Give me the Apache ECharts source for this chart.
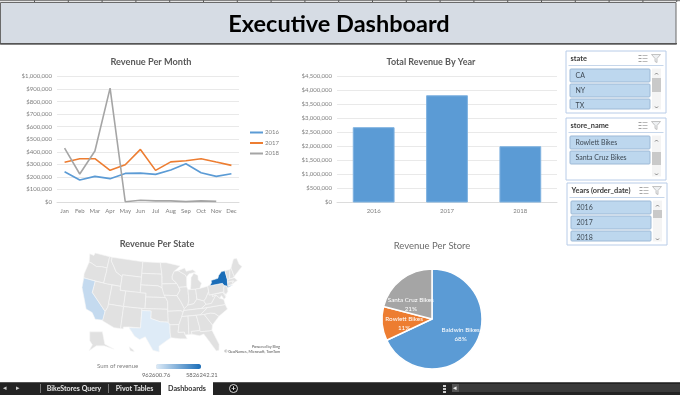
<!DOCTYPE html>
<html><head><meta charset="utf-8">
<style>html,body{margin:0;padding:0;background:#fff}#c{width:680px;height:395px}</style>
<script src="https://cdn.jsdelivr.net/npm/echarts@6/dist/echarts.min.js"></script>
</head><body><div id="c"></div>
<script>
const months=['Jan','Feb','Mar','Apr','May','Jun','Jul','Aug','Sep','Oct','Nov','Dec'];
const rev2016=[241000,175000,204000,186000,228000,230000,220000,255000,305000,233000,204000,225000];
const rev2017=[316000,345000,345000,252000,297000,419000,252000,320000,329000,345000,318000,292000];
const rev2018=[430000,223000,406000,907000,2000,14000,9000,9000,3000,9000,5000,null];
const years=['2016','2017','2018'];
const yearTotals=[2690000,3830000,2010000];
const stateNames=['Texas','California','New York'];
const stateRevenue=[962600.76,1605823,5826242.21];
const stores=['Baldwin Bikes','Rowlett Bikes','Santa Cruz Bikes'];
const storeShare=[68,11,21];
const stateSlicer=['CA','NY','TX'];
const storeSlicer=['Rowlett Bikes','Santa Cruz Bikes'];
const yearSlicer=['2016','2017','2018'];
const tabs=['BikeStores Query','Pivot Tables','Dashboards'];

// Coarse state outlines (base map geometry, lon/lat)
const S={
Washington:[[-124.7,48.4,-123,48.3,-122.8,49,-117,49,-117,46,-119,46,-121,45.7,-123,46.2,-124,46.3]],
Oregon:[[-124,46.3,-123,46.2,-121,45.7,-119,46,-117,46,-116.9,45,-117,44,-117,42,-124.2,42,-124.5,43]],
California:[[-124.2,42,-120,42,-120,39,-114.6,35,-114.7,32.7,-117.1,32.5,-118.5,34,-120.6,34.5,-122,36.8,-123.8,39.5]],
Nevada:[[-120,42,-114,42,-114,36.2,-114.6,35,-120,39]],
Idaho:[[-117,49,-116,49,-116,48,-114.5,46.6,-113.5,45.5,-111,44.5,-111,42,-117,42,-117,44,-116.9,45,-117,46]],
Montana:[[-116,49,-104,49,-104,45,-111,45,-111,44.5,-113.5,45.5,-114.5,46.6,-116,48]],
Wyoming:[[-111,45,-104,45,-104,41,-111,41]],
Utah:[[-114,42,-111,42,-111,41,-109,41,-109,37,-114,37]],
Colorado:[[-109,41,-102,41,-102,37,-109,37]],
Arizona:[[-114.6,35,-114,36.2,-114,37,-109,37,-109,31.3,-111,31.3,-114.8,32.5]],
'New Mexico':[[-109,37,-103,37,-103,32,-106.6,32,-106.5,31.8,-108.2,31.8,-108.2,31.3,-109,31.3]],
'North Dakota':[[-104,49,-97.2,49,-96.6,46,-104,46]],
'South Dakota':[[-104,46,-96.6,46,-96.5,42.5,-98,43,-104,43]],
Nebraska:[[-104,43,-98,43,-96.5,42.5,-95.3,40,-102,40,-102,41,-104,41]],
Kansas:[[-102,40,-95.3,40,-94.6,39,-94.6,37,-102,37]],
Oklahoma:[[-103,37,-94.6,37,-94.5,33.7,-97,33.8,-100,34.6,-100,36.5,-103,36.5]],
Texas:[[-103,36.5,-100,36.5,-100,34.6,-97,33.8,-94.5,33.7,-94,33,-94,31,-93.8,29.7,-95,29,-97.3,27.5,-97.2,26,-99,26.4,-101.4,29.8,-103,29,-104.5,29.7,-106.5,31.8,-106.6,32,-103,32]],
Minnesota:[[-97.2,49,-95,49,-89.6,48,-92,46.7,-92.8,45.5,-92.8,44.7,-91.2,43.5,-96.5,43.5,-96.5,45.3,-96.6,46]],
Iowa:[[-96.5,43.5,-91.2,43.5,-90.2,41.8,-91.4,40.4,-95.8,40.6,-96.5,42.5]],
Missouri:[[-95.8,40.6,-91.4,40.4,-90.2,38.8,-89.2,37,-89.7,36,-90.3,36.5,-94.6,36.5,-94.6,39,-95.3,40]],
Arkansas:[[-94.6,36.5,-90.3,36.5,-89.7,36,-90.2,35,-91.2,33,-94,33,-94.5,33.7]],
Louisiana:[[-94,33,-91.2,33,-91.6,31,-89.7,31,-89.5,30.2,-89,29.2,-91,29.3,-93.8,29.7,-94,31]],
Wisconsin:[[-92,46.7,-90.5,46.8,-88,45.6,-87.6,45,-87.8,42.5,-90.6,42.5,-91.2,43.5,-92.8,44.7,-92.8,45.5]],
Illinois:[[-90.6,42.5,-87.8,42.5,-87.5,41.7,-87.5,39,-88,37.8,-89.2,37,-90.2,38.8,-91.4,40.4,-90.2,41.8]],
Indiana:[[-87.5,41.7,-84.8,41.7,-84.8,39.1,-86,38,-88,37.8,-87.5,39]],
Michigan:[[-86.6,41.75,-84.8,41.7,-83.4,41.7,-82.5,43,-83.5,44,-83.4,45.1,-84.8,45.8,-86,44.7,-86.3,43],[-90.5,46.8,-88,47.4,-87.5,46.5,-85,46.7,-84,46,-86.5,45.8,-87.6,45,-88,45.6]],
Ohio:[[-84.8,41.7,-83.4,41.7,-80.5,42,-80.5,40.6,-81.8,39,-82.6,38.4,-84.8,39.1]],
Kentucky:[[-89.2,37,-88,37.8,-86,38,-84.8,39.1,-82.6,38.4,-82,37.5,-83.7,36.6,-89.4,36.5]],
Tennessee:[[-89.7,36,-89.4,36.5,-83.7,36.6,-81.7,36.6,-84.3,35,-90.2,35]],
Mississippi:[[-90.2,35,-88.2,35,-88.4,30.3,-89.5,30.2,-89.7,31,-91.6,31,-91.2,33]],
Alabama:[[-88.2,35,-85.6,35,-85,32,-85,31,-87.6,31,-87.5,30.3,-88.4,30.3]],
Georgia:[[-85.6,35,-83.1,35,-81,32,-81.4,30.7,-82.2,30.6,-84.9,30.7,-85,31,-85,32]],
Florida:[[-87.6,31,-85,31,-84.9,30.7,-82.2,30.6,-81.4,30.7,-80,26.8,-80.3,25.3,-81.1,25.2,-82.7,28,-84,30,-85.3,29.7,-87.5,30.3]],
'South Carolina':[[-83.1,35,-81,35.1,-79.7,34.8,-78.6,33.9,-81,32]],
'North Carolina':[[-84.3,35,-81.7,36.6,-75.9,36.55,-75.5,35.3,-78.6,33.9,-79.7,34.8,-81,35.1,-83.1,35]],
Virginia:[[-83.7,36.6,-75.9,36.55,-76,37.9,-77.2,38.4,-78.3,39.4,-80.3,37.5,-82,37.5]],
'West Virginia':[[-82.6,38.4,-81.8,39,-80.5,40.6,-80.5,39.7,-79.5,39.7,-79.5,39.2,-78.3,39.4,-80.3,37.5,-82,37.5]],
Maryland:[[-79.5,39.7,-75.8,39.7,-75.1,38.4,-75.9,37.95,-76.5,39,-77.2,38.4,-78.3,39.4,-79.5,39.2]],
Delaware:[[-75.8,39.7,-75.4,39.8,-75.1,38.4]],
Pennsylvania:[[-80.5,42,-79.8,42.3,-79.8,42,-75.3,42,-74.8,41.3,-75.2,40.7,-75.4,39.8,-80.5,39.7]],
'New York':[[-79.8,42,-79,42.7,-79,43.3,-76.5,43.5,-76,44.2,-74.7,45,-73.4,45,-73.3,42.7,-73.5,41.3,-73.7,40.9,-72,41,-74,40.6,-74,41,-74.8,41.3,-75.3,42]],
'New Jersey':[[-74.8,41.3,-74,41,-74,40.4,-74.1,39.7,-74.9,39,-75.5,39.6,-75.2,40.7]],
Connecticut:[[-73.5,42,-71.8,42,-71.8,41.3,-73.7,40.95]],
'Rhode Island':[[-71.8,42,-71.4,42,-71.2,41.5,-71.8,41.3]],
Massachusetts:[[-73.3,42.7,-71.3,42.7,-70.7,42.6,-70,41.8,-71.2,41.5,-71.4,42,-71.8,42,-73.5,42]],
Vermont:[[-73.4,45,-71.5,45,-72.5,42.7,-73.3,42.7]],
'New Hampshire':[[-71.5,45,-71,45.3,-70.7,43,-71.3,42.7,-72.5,42.7]],
Maine:[[-71,45.3,-70.3,46.2,-69.2,47.4,-68,47.3,-67.8,45.7,-67,44.9,-70.7,43]]
};
// Albers equal-area conic projection
const rad=Math.PI/180,p1=29.5*rad,p2=45.5*rad,p0=37.5*rad,l0=-96*rad;
const n=(Math.sin(p1)+Math.sin(p2))/2,C=Math.cos(p1)**2+2*n*Math.sin(p1),r0=Math.sqrt(C-2*n*Math.sin(p0))/n;
const albers={
  project:([lon,lat])=>{const r=Math.sqrt(C-2*n*Math.sin(lat*rad))/n,t=n*(lon*rad-l0);return [100*r*Math.sin(t),-100*(r0-r*Math.cos(t))];},
  unproject:([x,y])=>{const X=x/100,Y=r0+y/100,r=Math.hypot(X,Y),t=Math.atan2(X,Y);return [(t/n+l0)/rad,Math.asin((C-(r*n)**2)/(2*n))/rad];}
};
// Alaska and Hawaii are map insets: outlines given in map-space units, then unprojected
const insetRing=pts=>{const out=[];for(let i=0;i<pts.length;i+=2){const ll=albers.unproject([100*((pts[i]-82)/222-.37),-100*(.241-(pts[i+1]-253)/222)]);out.push(ll[0],ll[1]);}return out;};
S.Alaska=[insetRing([90.7,331,103.3,331,105.7,343.3,115,348.3,105,345,97.3,345,90,350,93.3,344,90.7,340])];
S.Hawaii=[insetRing([130,346,134,349,135,351,131,350])];
const features=Object.keys(S).map(n=>({type:'Feature',properties:{name:n},geometry:{type:'MultiPolygon',
  coordinates:S[n].map(r=>{const p=[];for(let i=0;i<r.length;i+=2)p.push([r[i],r[i+1]]);p.push(p[0]);return [p];})}}));
echarts.registerMap('usa',{type:'FeatureCollection',features});

const F='Lato, "Open Sans", sans-serif';
const TXT='#7f7f7f',GRID='#e9e9e9';
const usd=v=>'$'+Number(v).toLocaleString('en-US');
const T=(x,y,text,o={})=>({type:'text',x,y,silent:true,z:o.z||10,style:Object.assign({text,fill:'#404040',font:(o.w||'normal')+' '+(o.s||7)+'px '+F,textAlign:o.a||'left',textVerticalAlign:'middle'},o.f?{fill:o.f}:{})});
const R=(x,y,w,h,fill,stroke,z)=>({type:'rect',silent:true,z:z||5,shape:{x,y,width:w,height:h},style:{fill:fill||'none',stroke:stroke||'none',lineWidth:1}});
const L=(x1,y1,x2,y2,c,w)=>({type:'line',silent:true,z:11,shape:{x1,y1,x2,y2},style:{stroke:c,lineWidth:w||1}});

function slicer(x,y,h,title,items,thumbY,thumbH,sepOffset,clip){
  const g=[R(x+.5,y+.5,100,h,'#fff','#b8cce8',5)];
  g.push(T(x+5,y+8,title,{w:'bold',s:7.4,f:'#3a3a3a'}));
  g.push(L(x+3,y+15,x+98,y+15,'#c6d6ea',1));
  items.forEach((t,i)=>{
    const iy=y+18+i*15, ih=Math.min(13,clip[i]);
    g.push({type:'rect',silent:true,z:6,shape:{x:x+4.5,y:iy+.5,width:80,height:ih,r:1},style:{fill:'#bdd7ee',stroke:'#9db9d6',lineWidth:1}});
    g.push(T(x+10,iy+7,t,{s:7,f:'#3f4a55'}));
  });
  g.push(R(x+86.5,y+18,9,h-21,'#f4f4f4',null,6));
  g.push(R(x+86.5,thumbY,9,thumbH,'#c9c9c9',null,7));
  g.push({type:'polyline',silent:true,z:8,shape:{points:[[x+89.5,y+24],[x+91,y+22.5],[x+92.5,y+24]]},style:{stroke:'#666',fill:'none',lineWidth:.8}});
  g.push({type:'polyline',silent:true,z:8,shape:{points:[[x+89.5,y+h-6],[x+91,y+h-4.5],[x+92.5,y+h-6]]},style:{stroke:'#666',fill:'none',lineWidth:.8}});
  const ix=x+73;
  [0,3,6].forEach(d=>{g.push(L(ix,y+5+d,ix+3,y+5+d,'#8a8a8a',.8));g.push(L(ix+4,y+5+d,ix+9,y+5+d,'#a8a8a8',.8));});
  g.push({type:'polygon',silent:true,z:11,shape:{points:[[x+86,y+4],[x+95,y+4],[x+91.5,y+8],[x+91.5,y+12],[x+89.5,y+11],[x+89.5,y+8]]},style:{fill:'#eef0f2',stroke:'#b5b5b5',lineWidth:.8}});
  return g;
}

const graphic=[];
graphic.push(R(0,0,680,2,'#e4e4e4',null,1));
for(let i=0;i<20;i++) graphic.push(R(34+i*33.8,0,1,2,'#555',null,1));
graphic.push(R(0,0,680,.8,'#666',null,1));
graphic.push(R(.5,2.5,675.5,41.5,'#d6dce4','#6a6a6a',1));
graphic.push(R(0,43,677,1.5,'#555',null,3));
graphic.push(T(339,24.5,'Executive Dashboard',{w:'bold',s:23.5,a:'center',f:'#000'}));
graphic.push(...slicer(565.5,50.5,62,'state',stateSlicer,78,14,15,[13,13,10]));
graphic.push(...slicer(565.5,117.5,62,'store_name',storeSlicer,152,13,15,[13,13]));
graphic.push(...slicer(566.5,182.5,62,'Years (order_date)',yearSlicer,210,8,15,[13,13,10]));
graphic.push(T(97,366,'Sum of revenue',{s:6,f:TXT}));
graphic.push(T(142,375,String(stateRevenue[0]),{s:5.8,f:'#666'}));
graphic.push(T(186,375,String(stateRevenue[2]),{s:5.8,f:'#666'}));
graphic.push(T(280,347,'Powered by Bing',{s:3.8,a:'right',f:'#555'}));
graphic.push(T(280,352,'\u00a9 GeoNames, Microsoft, TomTom',{s:3.8,a:'right',f:'#555'}));
graphic.push(R(0,382,680,13,'#232323',null,20));
graphic.push(R(0,382,680,1,'#555',null,21));
graphic.push(R(161,381,52,14,'#ffffff',null,21));
[40,108].forEach(x=>graphic.push(R(x,384,1,9,'#777',null,22)));
graphic.push(T(74,388.5,tabs[0],{w:'bold',s:7,a:'center',f:'#e6e6e6',z:23}));
graphic.push(T(134.5,388.5,tabs[1],{w:'bold',s:7,a:'center',f:'#e6e6e6',z:23}));
graphic.push(T(187,388.5,tabs[2],{w:'bold',s:7.2,a:'center',f:'#333',z:23}));
graphic.push(T(3,388,'\u25c2',{s:7,f:'#ccc',z:23}));
graphic.push(T(16,388,'\u25b8',{s:7,f:'#ccc',z:23}));
graphic.push({type:'circle',silent:true,z:23,shape:{cx:233.5,cy:388.5,r:4},style:{fill:'#111',stroke:'#ddd',lineWidth:1}});
graphic.push(T(233.5,388.5,'+',{w:'bold',s:8,a:'center',f:'#fff',z:24}));
[385,388,391].forEach(y=>graphic.push(R(443,y,3,2,'#ccc',null,23)));
graphic.push(R(452,384,228,8,'#3a3a3a',null,22));
graphic.push(R(452,384,7,8,'#555',null,23));
graphic.push(T(453,388,'\u25c2',{s:7,f:'#eee',z:24}));

const valAxis=(gi,max,interval)=>({type:'value',gridIndex:gi,min:0,max,interval,axisLine:{show:false},axisTick:{show:false},
  splitLine:{lineStyle:{color:GRID,width:1}},axisLabel:{formatter:usd,fontFamily:F,fontSize:6,color:TXT,margin:5}});
const catAxis=(gi,data)=>({type:'category',gridIndex:gi,data,axisLine:{lineStyle:{color:'#dcdcdc'}},axisTick:{show:false},
  axisLabel:{fontFamily:F,fontSize:6,color:TXT,margin:6,interval:0}});
const line=(name,data,color)=>({name,type:'line',data,xAxisIndex:0,yAxisIndex:0,symbol:'none',connectNulls:false,lineStyle:{color,width:1.6},itemStyle:{color}});
const ttl=(text,x,y,s,w,c)=>({text,left:x,top:y,padding:0,textAlign:'center',textVerticalAlign:'middle',textStyle:{fontFamily:F,fontSize:s,fontWeight:w,color:c}});
const pieNudge=[[5,0],[0,2],[-4,8]];

const option={
  animation:false,backgroundColor:'#fff',textStyle:{fontFamily:F},
  title:[ttl('Revenue Per Month',151,62,9.2,'bold','#595959'),ttl('Total Revenue By Year',431,62,9,'bold','#595959'),
         ttl('Revenue Per State',157,244.5,9.2,'bold','#595959'),ttl('Revenue Per Store',432,246,9.5,'normal','#6b6b6b')],
  grid:[{left:57,right:441,top:76.5,height:125.5},{left:337,right:123,top:76.5,height:126}],
  xAxis:[catAxis(0,months),catAxis(1,years)],
  yAxis:[valAxis(0,1000000,100000),valAxis(1,4500000,500000)],
  legend:{orient:'vertical',left:250,top:129.5,padding:0,itemWidth:13,itemHeight:2,itemGap:4.5,data:years,icon:'rect',textStyle:{fontFamily:F,fontSize:6,color:TXT,padding:[0,0,0,-3]}},
  visualMap:{type:'continuous',seriesIndex:4,min:stateRevenue[0],max:stateRevenue[2],orient:'horizontal',left:156,top:364,itemWidth:5,itemHeight:45,calculable:false,
    inRange:{color:['#deebf7','#1a6db8']},text:null,padding:0,realtime:false},
  graphic:{elements:graphic},
  series:[
    line(years[0],rev2016,'#5b9bd5'),line(years[1],rev2017,'#ed7d31'),line(years[2],rev2018,'#a5a5a5'),
    {type:'bar',xAxisIndex:1,yAxisIndex:1,data:yearTotals,barWidth:'57%',itemStyle:{color:'#5b9bd5',borderColor:'#7fb2e0',borderWidth:1}},
    {type:'map',map:'usa',projection:albers,left:82,top:253,width:160,height:99,roam:false,silent:true,showLegendSymbol:false,
      label:{show:false},itemStyle:{areaColor:'#e1e1e1',borderColor:'#f6f6f6',borderWidth:.6},
      data:stateNames.map((name,i)=>({name,value:stateRevenue[i]}))},
    {type:'pie',center:[432,319],radius:[0,50],startAngle:90,silent:true,
      data:stores.map((name,i)=>({name,value:storeShare[i],itemStyle:{color:['#5b9bd5','#ed7d31','#a5a5a5'][i]}})),
      itemStyle:{borderColor:'#fff',borderWidth:1.5},
      label:{position:'inside',formatter:'{b}\n{d}%',color:'#fff',fontFamily:F,fontSize:6.3,lineHeight:9},
      labelLayout:p=>({dx:pieNudge[p.dataIndex][0],dy:pieNudge[p.dataIndex][1]}),
      labelLine:{show:false}}
  ]
};
const chart=echarts.init(document.getElementById('c'),null,{renderer:'canvas'});
chart.setOption(option);
</script></body></html>
